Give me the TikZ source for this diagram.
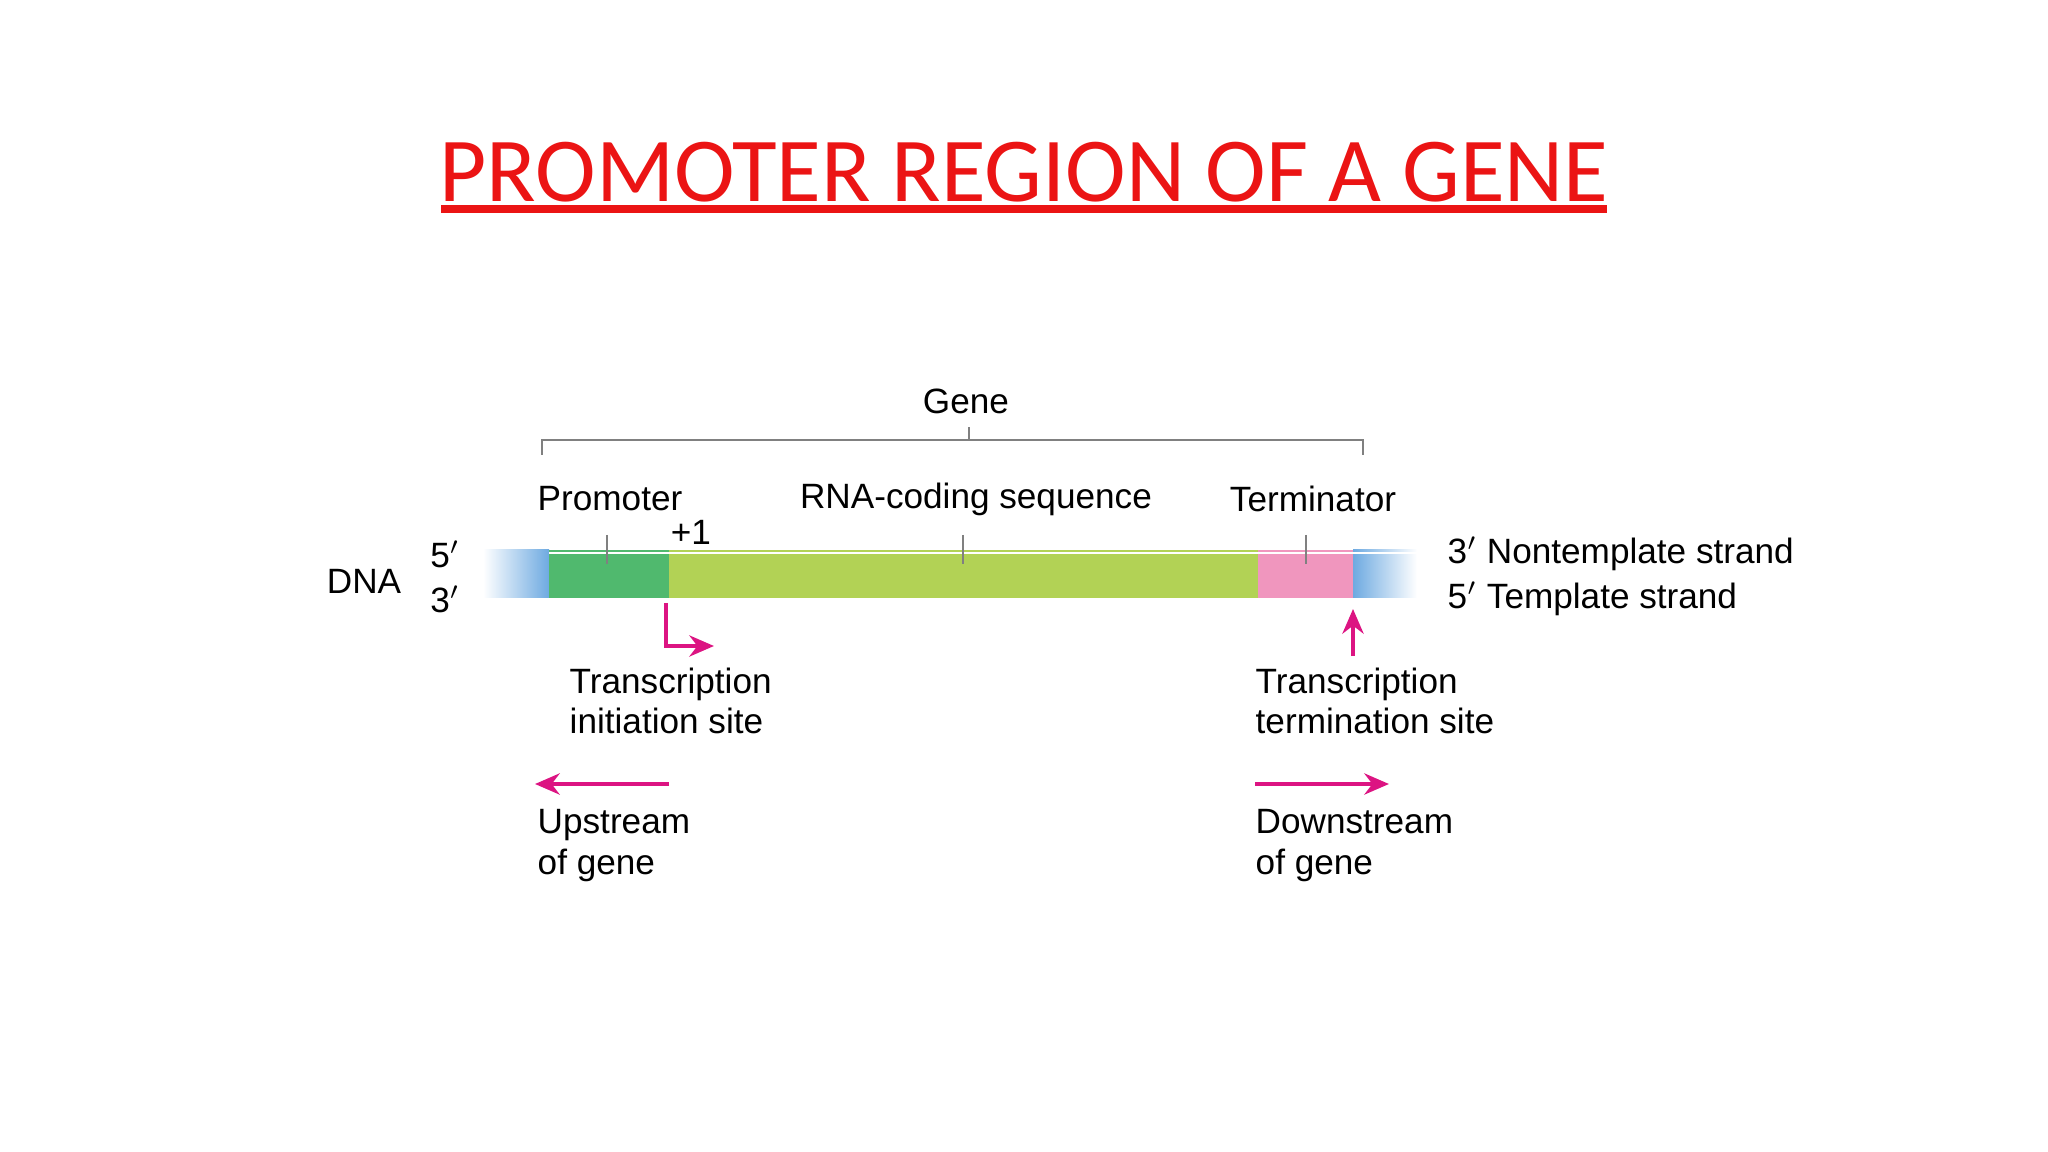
\documentclass[tikz,border=0pt]{standalone}
\usepackage{fontspec}
\setmainfont{Liberation Sans}
\newfontfamily\titlefont{Carlito}
\usetikzlibrary{arrows.meta}
\definecolor{titlered}{RGB}{235,20,20}
\definecolor{dnablue}{RGB}{110,170,225}
\definecolor{promgreen}{RGB}{80,185,110}
\definecolor{codegreen}{RGB}{178,210,85}
\definecolor{termpink}{RGB}{240,150,190}
\definecolor{arrowpink}{RGB}{220,20,130}
\begin{document}
\begin{tikzpicture}[x=0.01cm,y=-0.01cm,
                    label text/.style={font=\fontsize{10}{11.5}\selectfont,inner sep=0pt},
                    site text/.style={label text,align=left,anchor=north west},
                    pink arrow/.style={arrowpink,line width=1.3pt,-{Stealth[length=7pt,width=6pt]}},
                    thin tick/.style={gray,line width=0.5pt}]
  \useasboundingbox (0,0) rectangle (2048,1152);

  % title
  \node[font=\titlefont\fontsize{26}{30}\selectfont,text=titlered] (title) at (1024,172) {PROMOTER REGION OF A GENE};
  \draw[titlered,line width=2pt] (441,209) -- (1607,209);

  % gene bracket
  \node[label text] (gene) at (966,401) {Gene};
  \draw[thin tick] (542,455) -- (542,440) -- (1363,440) -- (1363,455);
  \draw[thin tick] (969,440) -- (969,427);

  % DNA bar
  \shade[left color=white,right color=dnablue] (483,550) rectangle (549,598);
  \fill[promgreen] (549,550) rectangle (669,598);
  \fill[codegreen] (669,550) rectangle (1258,598);
  \fill[termpink] (1258,550) rectangle (1353,598);
  \shade[left color=dnablue,right color=white] (1353,550) rectangle (1417,598);
  \draw[white,line width=0.6pt] (549,553) -- (1417,553);

  \node[label text] (prom) at (610,499) {Promoter};
  \node[label text] (rna) at (976,499) {RNA-coding sequence};
  \node[label text] (term) at (1313,499) {Terminator};
  \node[label text] (plus) at (691,532) {+1};
  \draw[thin tick] (607,535) -- (607,564);
  \draw[thin tick] (963,535) -- (963,564);
  \draw[thin tick] (1306,535) -- (1306,564);

  \node[label text] (dna) at (364,581) {DNA};
  \node[label text] (five) at (445,554) {5$'$};
  \node[label text] (three) at (445,599) {3$'$};
  \node[label text,anchor=west] (nontemp) at (1447,554) {3$'$ Nontemplate strand};
  \node[label text,anchor=west] (temp) at (1447,599) {5$'$ Template strand};

  % sites
  \coordinate (init top) at (666,603);
  \coordinate (init end) at (714,646);
  \draw[pink arrow] (init top) |- (init end);
  \node[site text] (init) at (569,667) {Transcription\\initiation site};
  \coordinate (term low) at (1353,656);
  \coordinate (term top) at (1353,609);
  \draw[pink arrow] (term low) -- (term top);
  \node[site text] (termsite) at (1255,667) {Transcription\\termination site};

  % directions
  \coordinate (up start) at (669,784);
  \coordinate (up end) at (535,784);
  \draw[pink arrow] (up start) -- (up end);
  \node[site text] (upstream) at (537,809) {Upstream\\of gene};
  \coordinate (down start) at (1255,784);
  \coordinate (down end) at (1389,784);
  \draw[pink arrow] (down start) -- (down end);
  \node[site text] (downstream) at (1255,809) {Downstream\\of gene};
\end{tikzpicture}
\end{document}
